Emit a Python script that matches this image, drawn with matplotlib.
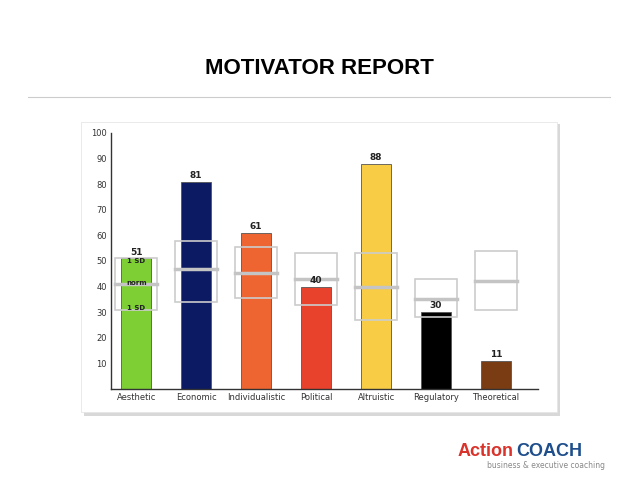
import matplotlib
matplotlib.use("Agg")
import matplotlib.pyplot as plt
from matplotlib.patches import Rectangle

categories = ["Aesthetic", "Economic", "Individualistic", "Political", "Altruistic", "Regulatory", "Theoretical"]
scores = [51, 81, 61, 40, 88, 30, 11]
colors = ["#7dcf34", "#0b1a63", "#ee6531", "#e8412c", "#f8cc45", "#000000", "#7a3c12"]
sd_low = [31, 34, 35.5, 33, 27, 28, 31]
norm = [41, 47, 45.5, 43, 40, 35, 42]
sd_high = [51, 58, 55.5, 53, 53, 43, 54]

W, H = 638, 479
fig = plt.figure(figsize=(W/100, H/100), dpi=100)
fig.patch.set_facecolor("white")
fig.text(0.5, 1-68/H, "MOTIVATOR REPORT", ha="center", va="center", fontsize=16, fontweight="bold", family="Liberation Sans")
fig.add_artist(plt.Line2D([28/W, 610/W], [1-97/H, 1-97/H], color="#cccccc", lw=0.8))
fig.add_artist(Rectangle((84/W, 1-416/H), 476/W, 292/H, facecolor="#d8d8d8", edgecolor="none", transform=fig.transFigure, zorder=-2))
fig.add_artist(Rectangle((81/W, 1-412/H), 476/W, 290/H, facecolor="white", edgecolor="#e6e6e6", lw=0.6, transform=fig.transFigure, zorder=-1))

ax = fig.add_axes([111/W, 1-389/H, (538-111)/W, (389-133)/H])
ax.set_zorder(1)
ax.set_facecolor("none")
x = list(range(len(categories)))
ax.bar(x, scores, width=0.5, color=colors, edgecolor="#555555", linewidth=0.6, zorder=2)
bw = 0.71
for i in x:
    ax.add_patch(Rectangle((i-bw/2, sd_low[i]), bw, sd_high[i]-sd_low[i], fill=False, edgecolor="#cccccc", lw=1.2, zorder=3))
    ax.plot([i-bw/2, i+bw/2], [norm[i], norm[i]], color="#c4c4c4", lw=2.5, zorder=3)
    ax.text(i, scores[i]+0.7, str(scores[i]), ha="center", va="bottom", fontsize=6.5, fontweight="bold", color="#222222", zorder=4)
ax.text(0, sd_high[0]-1, "1 SD", ha="center", va="center", fontsize=5, fontweight="bold", color="#222222", zorder=4)
ax.text(0, norm[0]+0.3, "norm", ha="center", va="center", fontsize=5, fontweight="bold", color="#222222", zorder=4)
ax.text(0, sd_low[0]+0.5, "1 SD", ha="center", va="center", fontsize=5, fontweight="bold", color="#222222", zorder=4)
ax.set_xlim(-0.42, 6.7)
ax.set_ylim(0, 100)
ax.set_yticks(range(10, 101, 10))
ax.set_xticks(x)
ax.set_xticklabels(categories)
ax.tick_params(axis="both", length=0, labelsize=6, colors="#333333", pad=3)
for s in ["top", "right"]:
    ax.spines[s].set_visible(False)
for s in ["left", "bottom"]:
    ax.spines[s].set_color("#333333")
    ax.spines[s].set_linewidth(1)

fig.text(458/W, 1-452/H, "Action", color="#d9332b", fontsize=13, fontweight="bold", va="center", ha="left", family="Liberation Sans")
fig.text(516/W, 1-452/H, "COACH", color="#1f4e8c", fontsize=13, fontweight="bold", va="center", ha="left", family="Liberation Sans")
fig.text(487/W, 1-465/H, "business & executive coaching", color="#888888", fontsize=5.5, va="center", ha="left")
fig.savefig("out.png", dpi=100)
